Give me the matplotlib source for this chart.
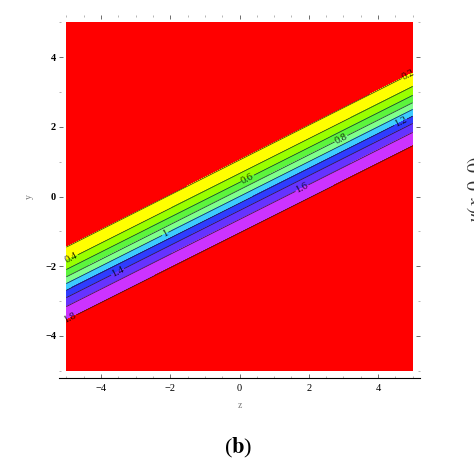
import numpy as np
import matplotlib
matplotlib.use("Agg")
import matplotlib.pyplot as plt

plt.rcParams['font.family'] = ['Liberation Serif', 'DejaVu Serif']
plt.rcParams['mathtext.fontset'] = 'stix'

# contour levels and band colours (red outside the kink on both sides)
levels = [0.2, 0.4, 0.6, 0.8, 1.0, 1.2, 1.4, 1.6, 1.8]
band_colors = ['#ff0000', '#ffff00', '#99ff00', '#5cf53d', '#80ff8c',
               '#3cccff', '#2f3cff', '#6633ff', '#cc33ff', '#ff0000']

# kink front: f = 1 - tanh(k*(y - s*x - c))
slope = 0.5
offset = 0.0
steep = 1.05

xticks = [-4, -2, 0, 2, 4]
yticks = [-4, -2, 0, 2, 4]
tick_text = ['\u22124', '\u22122', '0', '2', '4']

# label anchor points (data coords) roughly where the picture puts them
label_pos = [(4.8, 3.6), (-4.85, -1.76), (0.2, 0.58), (2.94, 1.64), (-2.16, -1.04),
             (4.67, 2.1), (-3.52, -2.16), (1.82, 0.2), (-4.85, -3.57)]

x = np.linspace(-5, 5, 400)
y = np.linspace(-5, 5, 400)
X, Y = np.meshgrid(x, y)
F = 1 - np.tanh(steep * (Y - slope * X - offset))

fig = plt.figure(figsize=(4.74, 4.74), dpi=100)
ax = fig.add_axes([59 / 474, 96 / 474, 361 / 474, 363 / 474])

ax.contourf(X, Y, F, levels=[-0.01] + levels + [2.01], colors=band_colors)
cs = ax.contour(X, Y, F, levels=levels, colors='#1a1a1a', linewidths=0.55, alpha=0.85)

def fmt(v):
    return '1' if abs(v - 1) < 1e-9 else f'{v:.1f}'

ax.clabel(cs, fmt=fmt, fontsize=7.5, colors='#000000', manual=label_pos, inline=True,
          inline_spacing=1)

ax.set_xlim(-5.21, 5.21)
ax.set_ylim(-5.21, 5.21)
ax.set_xticks(xticks)
ax.set_yticks(yticks)
ax.set_xticklabels(tick_text, fontsize=7.5)
ax.set_yticklabels(tick_text, fontsize=7.5, fontweight='bold')
ax.set_xticks(np.arange(-5, 5.01, 0.5), minor=True)
ax.set_yticks(np.arange(-5, 5.01, 1.0), minor=True)
ax.tick_params(which='both', direction='in', top=True, right=True)
ax.tick_params(which='major', length=3, width=0.6, pad=4, color='#555555')
ax.tick_params(which='minor', length=1.2, width=0.5, color='#999999')
ax.tick_params(axis='y', pad=2)
for side in ['left', 'top', 'right']:
    ax.spines[side].set_visible(False)
ax.spines['bottom'].set_linewidth(0.8)

ax.set_xlabel('z', fontsize=7, color='#777777', labelpad=6)
ax.set_ylabel('y', fontsize=7, color='#777777', labelpad=8)

fig.text(238 / 474, 1 - 448 / 474, r'($\mathbf{b}$)', ha='center', va='center', fontsize=16)

# edge of the neighbouring panel's label, cut off by the image border
fig.text(465 / 474, 0.6, r'$u(x,0,0)$', rotation=90, ha='left', va='center',
         fontsize=14, color='#333333')

fig.savefig('out.png', dpi=100)
